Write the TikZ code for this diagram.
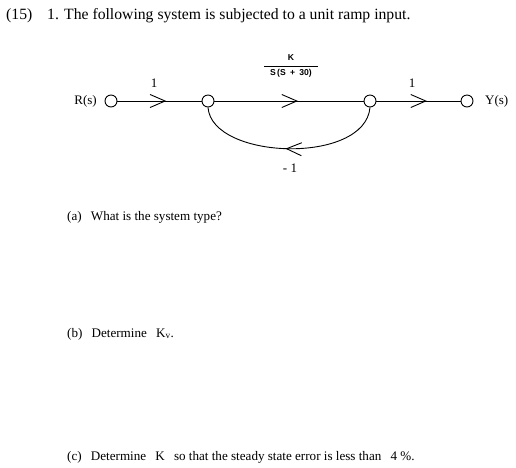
\documentclass[tikz,border=0pt]{standalone}
\usepackage{fontspec}
\setmainfont{Liberation Serif}
\newfontfamily\fracfont{Liberation Sans}
\usetikzlibrary{arrows.meta,decorations.markings}
\tikzset{
  sgnode/.style={circle,draw,line width=0.9pt,minimum size=12pt,inner sep=0pt},
  chev/.style={decoration={markings,mark=at position #1 with {\arrow{Straight Barb[length=15pt,width=13pt,line width=0.9pt]}}},postaction={decorate}},
  branch/.style={line width=0.9pt},
  lbl/.style={font=\fontsize{13}{15}\selectfont,inner sep=0pt},
  qtext/.style={font=\fontsize{13.1}{16}\selectfont,anchor=base west,inner sep=0pt},
  ttext/.style={font=\fontsize{15.7}{18}\selectfont,anchor=base west,inner sep=0pt},
  ftext/.style={font=\fracfont\bfseries\fontsize{8.6}{10}\selectfont,inner sep=0pt}
}
\begin{document}
\begin{tikzpicture}[x=1pt,y=-1pt]
\useasboundingbox (0,0) rectangle (516,467);
\node[ttext] (t1) at (6,19) {(15)};
\node[ttext] (title) at (47,19) {1. The following system is subjected to a unit ramp input.};
\node[sgnode] (R) at (111,101) {};
\node[sgnode] (A) at (208,101) {};
\node[sgnode] (B) at (370,101) {};
\node[sgnode] (Y) at (467,101) {};
\node[lbl,anchor=east] (Rl) at (97,101) {R(s)};
\node[lbl,anchor=west] (Yl) at (485,101) {Y(s)};
\draw[branch,chev=0.58] (R) -- (A);
\draw[branch,chev=0.56] (A) -- (B);
\draw[branch,chev=0.6] (B) -- (Y);
\draw[branch,chev=0.52] (B.south) .. controls (365,165) and (212,160) .. (A.south);
\node[lbl] (g1) at (154,83) {1};
\node[lbl] (g3) at (412,83) {1};
\node[lbl] (gf) at (290,168) {- 1};
\node[ftext] (Gn) at (291,57.5) {K};
\draw[line width=0.7pt] (264,66) -- (318,66);
\node[ftext] (Gd) at (291,73.5) {S\hspace{0.15em}(S\hspace{0.5em}+\hspace{0.5em}30)};
\node[qtext] (qa) at (67,220) {(a)\hspace{0.45em} What is the system type?};
\node[qtext] (qb) at (67,337) {(b)\hspace{0.45em} Determine\hspace{0.45em} K$_{\mathrm{v}}$.};
\node[qtext] (qc) at (67,460) {(c)\hspace{0.45em} Determine\hspace{0.45em} K\hspace{0.45em} so that the steady state error is less than\hspace{0.45em} 4 \%.};
\end{tikzpicture}
\end{document}
